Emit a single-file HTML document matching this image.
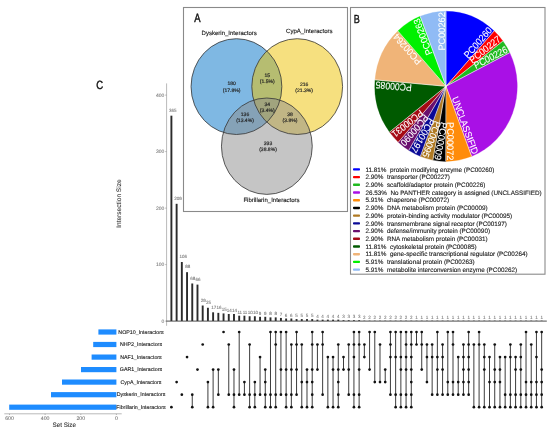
<!DOCTYPE html>
<html lang="en"><head><meta charset="utf-8"><title>Figure</title>
<style>html,body{margin:0;padding:0;background:#fff;}body{width:550px;height:432px;overflow:hidden;}svg{display:block;filter:blur(0.3px);}text{font-family:"Liberation Sans", Arial, sans-serif;text-rendering:geometricPrecision;}</style>
</head><body>
<svg width="550" height="432" viewBox="0 0 550 432">
<rect x="0" y="0" width="550" height="432" fill="#ffffff"/>
<g id="upset">
<line x1="166.6" y1="83.4" x2="166.6" y2="325.8" stroke="#8a8a8a" stroke-width="0.6"/>
<line x1="165.2" y1="321.10" x2="166.6" y2="321.10" stroke="#8a8a8a" stroke-width="0.6"/>
<text x="164.3" y="322.80" font-size="5.0" fill="#777" stroke="#777" stroke-width="0.08" text-anchor="end">0</text>
<line x1="165.2" y1="264.60" x2="166.6" y2="264.60" stroke="#8a8a8a" stroke-width="0.6"/>
<text x="164.3" y="266.30" font-size="5.0" fill="#777" stroke="#777" stroke-width="0.08" text-anchor="end">100</text>
<line x1="165.2" y1="208.10" x2="166.6" y2="208.10" stroke="#8a8a8a" stroke-width="0.6"/>
<text x="164.3" y="209.80" font-size="5.0" fill="#777" stroke="#777" stroke-width="0.08" text-anchor="end">200</text>
<line x1="165.2" y1="151.60" x2="166.6" y2="151.60" stroke="#8a8a8a" stroke-width="0.6"/>
<text x="164.3" y="153.30" font-size="5.0" fill="#777" stroke="#777" stroke-width="0.08" text-anchor="end">300</text>
<line x1="165.2" y1="95.10" x2="166.6" y2="95.10" stroke="#8a8a8a" stroke-width="0.6"/>
<text x="164.3" y="96.80" font-size="5.0" fill="#777" stroke="#777" stroke-width="0.08" text-anchor="end">400</text>
<g fill="#2b2b2b">
<rect x="170.45" y="115.68" width="1.9" height="205.32"/>
<rect x="175.67" y="203.81" width="1.9" height="117.18"/>
<rect x="180.88" y="262.01" width="1.9" height="58.99"/>
<rect x="186.10" y="272.18" width="1.9" height="48.82"/>
<rect x="191.31" y="283.48" width="1.9" height="37.52"/>
<rect x="196.53" y="284.61" width="1.9" height="36.39"/>
<rect x="201.74" y="305.51" width="1.9" height="15.48"/>
<rect x="206.96" y="307.77" width="1.9" height="13.22"/>
<rect x="212.17" y="312.30" width="1.9" height="8.70"/>
<rect x="217.39" y="312.86" width="1.9" height="8.14"/>
<rect x="222.60" y="313.43" width="1.9" height="7.57"/>
<rect x="227.81" y="313.99" width="1.9" height="7.01"/>
<rect x="233.03" y="313.99" width="1.9" height="7.01"/>
<rect x="238.25" y="315.69" width="1.9" height="5.31"/>
<rect x="243.46" y="315.69" width="1.9" height="5.31"/>
<rect x="248.68" y="316.25" width="1.9" height="4.75"/>
<rect x="253.89" y="316.25" width="1.9" height="4.75"/>
<rect x="259.11" y="316.81" width="1.9" height="4.18"/>
<rect x="264.32" y="316.81" width="1.9" height="4.18"/>
<rect x="269.54" y="317.38" width="1.9" height="3.62"/>
<rect x="274.75" y="317.38" width="1.9" height="3.62"/>
<rect x="279.97" y="317.94" width="1.9" height="3.05"/>
<rect x="285.18" y="318.51" width="1.9" height="2.49"/>
<rect x="290.40" y="318.51" width="1.9" height="2.49"/>
<rect x="295.61" y="319.07" width="1.9" height="1.92"/>
<rect x="300.82" y="319.07" width="1.9" height="1.92"/>
<rect x="306.04" y="319.07" width="1.9" height="1.92"/>
<rect x="311.26" y="319.07" width="1.9" height="1.92"/>
<rect x="316.47" y="319.64" width="1.9" height="1.36"/>
<rect x="321.69" y="319.64" width="1.9" height="1.36"/>
<rect x="326.90" y="319.64" width="1.9" height="1.36"/>
<rect x="332.12" y="319.64" width="1.9" height="1.36"/>
<rect x="337.33" y="319.64" width="1.9" height="1.36"/>
<rect x="342.55" y="320.20" width="1.9" height="0.79"/>
<rect x="347.76" y="320.20" width="1.9" height="0.79"/>
<rect x="352.98" y="320.20" width="1.9" height="0.79"/>
<rect x="358.19" y="320.20" width="1.9" height="0.79"/>
<rect x="363.41" y="320.70" width="1.9" height="0.30"/>
<rect x="368.62" y="320.70" width="1.9" height="0.30"/>
<rect x="373.83" y="320.70" width="1.9" height="0.30"/>
<rect x="379.05" y="320.70" width="1.9" height="0.30"/>
<rect x="384.27" y="320.70" width="1.9" height="0.30"/>
<rect x="389.48" y="320.70" width="1.9" height="0.30"/>
<rect x="394.69" y="320.70" width="1.9" height="0.30"/>
<rect x="399.91" y="320.70" width="1.9" height="0.30"/>
<rect x="405.12" y="320.70" width="1.9" height="0.30"/>
<rect x="410.34" y="320.70" width="1.9" height="0.30"/>
<rect x="415.56" y="320.70" width="1.9" height="0.30"/>
<rect x="420.77" y="320.70" width="1.9" height="0.30"/>
<rect x="425.99" y="320.70" width="1.9" height="0.30"/>
<rect x="431.20" y="320.70" width="1.9" height="0.30"/>
<rect x="436.42" y="320.70" width="1.9" height="0.30"/>
<rect x="441.63" y="320.70" width="1.9" height="0.30"/>
<rect x="446.84" y="320.70" width="1.9" height="0.30"/>
<rect x="452.06" y="320.70" width="1.9" height="0.30"/>
<rect x="457.28" y="320.70" width="1.9" height="0.30"/>
<rect x="462.49" y="320.70" width="1.9" height="0.30"/>
<rect x="467.70" y="320.70" width="1.9" height="0.30"/>
<rect x="472.92" y="320.70" width="1.9" height="0.30"/>
<rect x="478.14" y="320.70" width="1.9" height="0.30"/>
<rect x="483.35" y="320.70" width="1.9" height="0.30"/>
<rect x="488.56" y="320.70" width="1.9" height="0.30"/>
<rect x="493.78" y="320.70" width="1.9" height="0.30"/>
<rect x="499.00" y="320.70" width="1.9" height="0.30"/>
<rect x="504.21" y="320.70" width="1.9" height="0.30"/>
<rect x="509.43" y="320.70" width="1.9" height="0.30"/>
<rect x="514.64" y="320.70" width="1.9" height="0.30"/>
<rect x="519.85" y="320.70" width="1.9" height="0.30"/>
<rect x="525.07" y="320.70" width="1.9" height="0.30"/>
<rect x="530.28" y="320.70" width="1.9" height="0.30"/>
<rect x="535.50" y="320.70" width="1.9" height="0.30"/>
<rect x="540.71" y="320.70" width="1.9" height="0.30"/>
</g>
<g font-size="4.5" fill="#777" stroke="#777" stroke-width="0.08" text-anchor="middle">
<text x="172.80" y="111.88">365</text>
<text x="178.02" y="200.01">209</text>
<text x="183.23" y="258.21">106</text>
<text x="187.65" y="268.38">88</text>
<text x="192.86" y="279.68">68</text>
<text x="198.07" y="280.81">66</text>
<text x="203.29" y="301.71">29</text>
<text x="208.50" y="303.97">25</text>
<text x="213.72" y="308.50">17</text>
<text x="218.94" y="309.06">16</text>
<text x="224.15" y="311.43">15</text>
<text x="229.36" y="311.99">14</text>
<text x="234.58" y="311.99">14</text>
<text x="239.79" y="313.69">11</text>
<text x="245.01" y="313.69">11</text>
<text x="250.22" y="314.25">10</text>
<text x="255.44" y="314.25">10</text>
<text x="260.06" y="314.81">9</text>
<text x="265.27" y="314.81">9</text>
<text x="270.49" y="315.38">8</text>
<text x="275.70" y="315.38">8</text>
<text x="280.92" y="315.94">7</text>
<text x="286.13" y="316.51">6</text>
<text x="291.35" y="316.51">6</text>
<text x="296.56" y="317.07">5</text>
<text x="301.77" y="317.07">5</text>
<text x="306.99" y="317.07">5</text>
<text x="312.21" y="317.07">5</text>
<text x="317.42" y="317.64">4</text>
<text x="322.63" y="317.64">4</text>
<text x="327.85" y="317.64">4</text>
<text x="333.06" y="317.64">4</text>
<text x="338.28" y="317.64">4</text>
<text x="343.50" y="318.20">3</text>
<text x="348.71" y="318.20">3</text>
<text x="353.93" y="318.20">3</text>
<text x="359.14" y="318.20">3</text>
<text x="364.36" y="318.70">2</text>
<text x="369.57" y="318.70">2</text>
<text x="374.78" y="318.70">2</text>
<text x="380.00" y="318.70">2</text>
<text x="385.22" y="318.70">2</text>
<text x="390.43" y="318.70">2</text>
<text x="395.64" y="318.70">2</text>
<text x="400.86" y="318.70">2</text>
<text x="406.07" y="318.70">2</text>
<text x="411.29" y="318.70">2</text>
<text x="416.50" y="318.70">1</text>
<text x="421.72" y="318.70">1</text>
<text x="426.94" y="318.70">1</text>
<text x="432.15" y="318.70">1</text>
<text x="437.37" y="318.70">1</text>
<text x="442.58" y="318.70">1</text>
<text x="447.79" y="318.70">1</text>
<text x="453.01" y="318.70">1</text>
<text x="458.23" y="318.70">1</text>
<text x="463.44" y="318.70">1</text>
<text x="468.65" y="318.70">1</text>
<text x="473.87" y="318.70">1</text>
<text x="479.09" y="318.70">1</text>
<text x="484.30" y="318.70">1</text>
<text x="489.51" y="318.70">1</text>
<text x="494.73" y="318.70">1</text>
<text x="499.95" y="318.70">1</text>
<text x="505.16" y="318.70">1</text>
<text x="510.38" y="318.70">1</text>
<text x="515.59" y="318.70">1</text>
<text x="520.80" y="318.70">1</text>
<text x="526.02" y="318.70">1</text>
<text x="531.24" y="318.70">1</text>
<text x="536.45" y="318.70">1</text>
<text x="541.66" y="318.70">1</text>
</g>
<line x1="166.3" y1="321.1" x2="546.8" y2="321.1" stroke="#3a3a3a" stroke-width="0.9"/>
<text transform="translate(121.2,203.6) rotate(-90)" font-size="6.55" fill="#333" stroke="#333" stroke-width="0.1" text-anchor="middle">Intersection Size</text>
<g stroke="#333333" stroke-width="0.95">
<line x1="192.26" y1="394.70" x2="192.26" y2="407.20"/>
<line x1="207.91" y1="382.10" x2="207.91" y2="407.20"/>
<line x1="213.12" y1="369.60" x2="213.12" y2="407.20"/>
<line x1="218.34" y1="369.60" x2="218.34" y2="394.70"/>
<line x1="228.76" y1="344.50" x2="228.76" y2="394.70"/>
<line x1="233.98" y1="369.60" x2="233.98" y2="407.20"/>
<line x1="239.19" y1="332.00" x2="239.19" y2="394.70"/>
<line x1="244.41" y1="382.10" x2="244.41" y2="394.70"/>
<line x1="249.62" y1="344.50" x2="249.62" y2="407.20"/>
<line x1="254.84" y1="382.10" x2="254.84" y2="407.20"/>
<line x1="260.06" y1="357.10" x2="260.06" y2="394.70"/>
<line x1="265.27" y1="369.60" x2="265.27" y2="407.20"/>
<line x1="270.49" y1="332.00" x2="270.49" y2="407.20"/>
<line x1="275.70" y1="332.00" x2="275.70" y2="407.20"/>
<line x1="280.92" y1="332.00" x2="280.92" y2="394.70"/>
<line x1="286.13" y1="332.00" x2="286.13" y2="407.20"/>
<line x1="291.35" y1="344.50" x2="291.35" y2="407.20"/>
<line x1="296.56" y1="332.00" x2="296.56" y2="394.70"/>
<line x1="301.77" y1="344.50" x2="301.77" y2="407.20"/>
<line x1="306.99" y1="369.60" x2="306.99" y2="407.20"/>
<line x1="312.21" y1="332.00" x2="312.21" y2="407.20"/>
<line x1="317.42" y1="344.50" x2="317.42" y2="369.60"/>
<line x1="322.63" y1="332.00" x2="322.63" y2="394.70"/>
<line x1="327.85" y1="357.10" x2="327.85" y2="407.20"/>
<line x1="333.06" y1="357.10" x2="333.06" y2="407.20"/>
<line x1="338.28" y1="344.50" x2="338.28" y2="407.20"/>
<line x1="343.50" y1="357.10" x2="343.50" y2="369.60"/>
<line x1="348.71" y1="344.50" x2="348.71" y2="394.70"/>
<line x1="353.93" y1="332.00" x2="353.93" y2="407.20"/>
<line x1="359.14" y1="332.00" x2="359.14" y2="407.20"/>
<line x1="364.36" y1="344.50" x2="364.36" y2="357.10"/>
<line x1="369.57" y1="332.00" x2="369.57" y2="369.60"/>
<line x1="374.78" y1="332.00" x2="374.78" y2="382.10"/>
<line x1="380.00" y1="344.50" x2="380.00" y2="382.10"/>
<line x1="385.22" y1="369.60" x2="385.22" y2="382.10"/>
<line x1="390.43" y1="332.00" x2="390.43" y2="394.70"/>
<line x1="395.64" y1="332.00" x2="395.64" y2="407.20"/>
<line x1="400.86" y1="332.00" x2="400.86" y2="407.20"/>
<line x1="406.07" y1="332.00" x2="406.07" y2="407.20"/>
<line x1="411.29" y1="332.00" x2="411.29" y2="407.20"/>
<line x1="416.50" y1="332.00" x2="416.50" y2="344.50"/>
<line x1="421.72" y1="332.00" x2="421.72" y2="369.60"/>
<line x1="426.94" y1="344.50" x2="426.94" y2="382.10"/>
<line x1="432.15" y1="344.50" x2="432.15" y2="394.70"/>
<line x1="437.37" y1="332.00" x2="437.37" y2="394.70"/>
<line x1="442.58" y1="344.50" x2="442.58" y2="394.70"/>
<line x1="447.79" y1="332.00" x2="447.79" y2="394.70"/>
<line x1="453.01" y1="332.00" x2="453.01" y2="394.70"/>
<line x1="458.23" y1="357.10" x2="458.23" y2="394.70"/>
<line x1="463.44" y1="344.50" x2="463.44" y2="394.70"/>
<line x1="468.65" y1="332.00" x2="468.65" y2="394.70"/>
<line x1="473.87" y1="344.50" x2="473.87" y2="407.20"/>
<line x1="479.09" y1="332.00" x2="479.09" y2="407.20"/>
<line x1="484.30" y1="344.50" x2="484.30" y2="407.20"/>
<line x1="489.51" y1="357.10" x2="489.51" y2="407.20"/>
<line x1="494.73" y1="344.50" x2="494.73" y2="407.20"/>
<line x1="499.95" y1="357.10" x2="499.95" y2="407.20"/>
<line x1="505.16" y1="357.10" x2="505.16" y2="407.20"/>
<line x1="510.38" y1="344.50" x2="510.38" y2="407.20"/>
<line x1="515.59" y1="357.10" x2="515.59" y2="407.20"/>
<line x1="520.80" y1="344.50" x2="520.80" y2="407.20"/>
<line x1="526.02" y1="332.00" x2="526.02" y2="407.20"/>
<line x1="531.24" y1="344.50" x2="531.24" y2="407.20"/>
<line x1="536.45" y1="332.00" x2="536.45" y2="407.20"/>
<line x1="541.66" y1="332.00" x2="541.66" y2="407.20"/>
</g>
<g fill="#111111">
<circle cx="171.40" cy="407.20" r="1.35"/>
<circle cx="176.62" cy="382.10" r="1.35"/>
<circle cx="181.83" cy="394.70" r="1.35"/>
<circle cx="187.05" cy="357.10" r="1.35"/>
<circle cx="192.26" cy="394.70" r="1.35"/>
<circle cx="192.26" cy="407.20" r="1.35"/>
<circle cx="197.47" cy="369.60" r="1.35"/>
<circle cx="202.69" cy="344.50" r="1.35"/>
<circle cx="207.91" cy="382.10" r="1.35"/>
<circle cx="207.91" cy="407.20" r="1.35"/>
<circle cx="213.12" cy="369.60" r="1.35"/>
<circle cx="213.12" cy="407.20" r="1.35"/>
<circle cx="218.34" cy="369.60" r="1.35"/>
<circle cx="218.34" cy="394.70" r="1.35"/>
<circle cx="223.55" cy="332.00" r="1.35"/>
<circle cx="228.76" cy="344.50" r="1.35"/>
<circle cx="228.76" cy="394.70" r="1.35"/>
<circle cx="233.98" cy="369.60" r="1.35"/>
<circle cx="233.98" cy="394.70" r="1.35"/>
<circle cx="233.98" cy="407.20" r="1.35"/>
<circle cx="239.19" cy="332.00" r="1.35"/>
<circle cx="239.19" cy="394.70" r="1.35"/>
<circle cx="244.41" cy="382.10" r="1.35"/>
<circle cx="244.41" cy="394.70" r="1.35"/>
<circle cx="249.62" cy="344.50" r="1.35"/>
<circle cx="249.62" cy="394.70" r="1.35"/>
<circle cx="249.62" cy="407.20" r="1.35"/>
<circle cx="254.84" cy="382.10" r="1.35"/>
<circle cx="254.84" cy="394.70" r="1.35"/>
<circle cx="254.84" cy="407.20" r="1.35"/>
<circle cx="260.06" cy="357.10" r="1.35"/>
<circle cx="260.06" cy="394.70" r="1.35"/>
<circle cx="265.27" cy="369.60" r="1.35"/>
<circle cx="265.27" cy="382.10" r="1.35"/>
<circle cx="265.27" cy="394.70" r="1.35"/>
<circle cx="265.27" cy="407.20" r="1.35"/>
<circle cx="270.49" cy="332.00" r="1.35"/>
<circle cx="270.49" cy="394.70" r="1.35"/>
<circle cx="270.49" cy="407.20" r="1.35"/>
<circle cx="275.70" cy="332.00" r="1.35"/>
<circle cx="275.70" cy="344.50" r="1.35"/>
<circle cx="275.70" cy="394.70" r="1.35"/>
<circle cx="275.70" cy="407.20" r="1.35"/>
<circle cx="280.92" cy="332.00" r="1.35"/>
<circle cx="280.92" cy="369.60" r="1.35"/>
<circle cx="280.92" cy="394.70" r="1.35"/>
<circle cx="286.13" cy="332.00" r="1.35"/>
<circle cx="286.13" cy="369.60" r="1.35"/>
<circle cx="286.13" cy="394.70" r="1.35"/>
<circle cx="286.13" cy="407.20" r="1.35"/>
<circle cx="291.35" cy="344.50" r="1.35"/>
<circle cx="291.35" cy="369.60" r="1.35"/>
<circle cx="291.35" cy="394.70" r="1.35"/>
<circle cx="291.35" cy="407.20" r="1.35"/>
<circle cx="296.56" cy="332.00" r="1.35"/>
<circle cx="296.56" cy="344.50" r="1.35"/>
<circle cx="296.56" cy="369.60" r="1.35"/>
<circle cx="296.56" cy="394.70" r="1.35"/>
<circle cx="301.77" cy="344.50" r="1.35"/>
<circle cx="301.77" cy="382.10" r="1.35"/>
<circle cx="301.77" cy="407.20" r="1.35"/>
<circle cx="306.99" cy="369.60" r="1.35"/>
<circle cx="306.99" cy="382.10" r="1.35"/>
<circle cx="306.99" cy="407.20" r="1.35"/>
<circle cx="312.21" cy="332.00" r="1.35"/>
<circle cx="312.21" cy="344.50" r="1.35"/>
<circle cx="312.21" cy="369.60" r="1.35"/>
<circle cx="312.21" cy="382.10" r="1.35"/>
<circle cx="312.21" cy="394.70" r="1.35"/>
<circle cx="312.21" cy="407.20" r="1.35"/>
<circle cx="317.42" cy="344.50" r="1.35"/>
<circle cx="317.42" cy="369.60" r="1.35"/>
<circle cx="322.63" cy="332.00" r="1.35"/>
<circle cx="322.63" cy="344.50" r="1.35"/>
<circle cx="322.63" cy="394.70" r="1.35"/>
<circle cx="327.85" cy="357.10" r="1.35"/>
<circle cx="327.85" cy="407.20" r="1.35"/>
<circle cx="333.06" cy="357.10" r="1.35"/>
<circle cx="333.06" cy="369.60" r="1.35"/>
<circle cx="333.06" cy="407.20" r="1.35"/>
<circle cx="338.28" cy="344.50" r="1.35"/>
<circle cx="338.28" cy="369.60" r="1.35"/>
<circle cx="338.28" cy="382.10" r="1.35"/>
<circle cx="338.28" cy="394.70" r="1.35"/>
<circle cx="338.28" cy="407.20" r="1.35"/>
<circle cx="343.50" cy="357.10" r="1.35"/>
<circle cx="343.50" cy="369.60" r="1.35"/>
<circle cx="348.71" cy="344.50" r="1.35"/>
<circle cx="348.71" cy="369.60" r="1.35"/>
<circle cx="348.71" cy="394.70" r="1.35"/>
<circle cx="353.93" cy="332.00" r="1.35"/>
<circle cx="353.93" cy="344.50" r="1.35"/>
<circle cx="353.93" cy="357.10" r="1.35"/>
<circle cx="353.93" cy="394.70" r="1.35"/>
<circle cx="353.93" cy="407.20" r="1.35"/>
<circle cx="359.14" cy="332.00" r="1.35"/>
<circle cx="359.14" cy="344.50" r="1.35"/>
<circle cx="359.14" cy="369.60" r="1.35"/>
<circle cx="359.14" cy="394.70" r="1.35"/>
<circle cx="359.14" cy="407.20" r="1.35"/>
<circle cx="364.36" cy="344.50" r="1.35"/>
<circle cx="364.36" cy="357.10" r="1.35"/>
<circle cx="369.57" cy="332.00" r="1.35"/>
<circle cx="369.57" cy="369.60" r="1.35"/>
<circle cx="374.78" cy="332.00" r="1.35"/>
<circle cx="374.78" cy="382.10" r="1.35"/>
<circle cx="380.00" cy="344.50" r="1.35"/>
<circle cx="380.00" cy="382.10" r="1.35"/>
<circle cx="385.22" cy="369.60" r="1.35"/>
<circle cx="385.22" cy="382.10" r="1.35"/>
<circle cx="390.43" cy="332.00" r="1.35"/>
<circle cx="390.43" cy="344.50" r="1.35"/>
<circle cx="390.43" cy="357.10" r="1.35"/>
<circle cx="390.43" cy="394.70" r="1.35"/>
<circle cx="395.64" cy="332.00" r="1.35"/>
<circle cx="395.64" cy="357.10" r="1.35"/>
<circle cx="395.64" cy="394.70" r="1.35"/>
<circle cx="395.64" cy="407.20" r="1.35"/>
<circle cx="400.86" cy="332.00" r="1.35"/>
<circle cx="400.86" cy="357.10" r="1.35"/>
<circle cx="400.86" cy="369.60" r="1.35"/>
<circle cx="400.86" cy="394.70" r="1.35"/>
<circle cx="400.86" cy="407.20" r="1.35"/>
<circle cx="406.07" cy="332.00" r="1.35"/>
<circle cx="406.07" cy="344.50" r="1.35"/>
<circle cx="406.07" cy="357.10" r="1.35"/>
<circle cx="406.07" cy="369.60" r="1.35"/>
<circle cx="406.07" cy="394.70" r="1.35"/>
<circle cx="406.07" cy="407.20" r="1.35"/>
<circle cx="411.29" cy="332.00" r="1.35"/>
<circle cx="411.29" cy="344.50" r="1.35"/>
<circle cx="411.29" cy="357.10" r="1.35"/>
<circle cx="411.29" cy="369.60" r="1.35"/>
<circle cx="411.29" cy="382.10" r="1.35"/>
<circle cx="411.29" cy="394.70" r="1.35"/>
<circle cx="411.29" cy="407.20" r="1.35"/>
<circle cx="416.50" cy="332.00" r="1.35"/>
<circle cx="416.50" cy="344.50" r="1.35"/>
<circle cx="421.72" cy="332.00" r="1.35"/>
<circle cx="421.72" cy="344.50" r="1.35"/>
<circle cx="421.72" cy="369.60" r="1.35"/>
<circle cx="426.94" cy="344.50" r="1.35"/>
<circle cx="426.94" cy="357.10" r="1.35"/>
<circle cx="426.94" cy="382.10" r="1.35"/>
<circle cx="432.15" cy="344.50" r="1.35"/>
<circle cx="432.15" cy="357.10" r="1.35"/>
<circle cx="432.15" cy="394.70" r="1.35"/>
<circle cx="437.37" cy="332.00" r="1.35"/>
<circle cx="437.37" cy="357.10" r="1.35"/>
<circle cx="437.37" cy="369.60" r="1.35"/>
<circle cx="437.37" cy="394.70" r="1.35"/>
<circle cx="442.58" cy="344.50" r="1.35"/>
<circle cx="442.58" cy="357.10" r="1.35"/>
<circle cx="442.58" cy="369.60" r="1.35"/>
<circle cx="442.58" cy="394.70" r="1.35"/>
<circle cx="447.79" cy="332.00" r="1.35"/>
<circle cx="447.79" cy="382.10" r="1.35"/>
<circle cx="447.79" cy="394.70" r="1.35"/>
<circle cx="453.01" cy="332.00" r="1.35"/>
<circle cx="453.01" cy="344.50" r="1.35"/>
<circle cx="453.01" cy="382.10" r="1.35"/>
<circle cx="453.01" cy="394.70" r="1.35"/>
<circle cx="458.23" cy="357.10" r="1.35"/>
<circle cx="458.23" cy="382.10" r="1.35"/>
<circle cx="458.23" cy="394.70" r="1.35"/>
<circle cx="463.44" cy="344.50" r="1.35"/>
<circle cx="463.44" cy="357.10" r="1.35"/>
<circle cx="463.44" cy="369.60" r="1.35"/>
<circle cx="463.44" cy="382.10" r="1.35"/>
<circle cx="463.44" cy="394.70" r="1.35"/>
<circle cx="468.65" cy="332.00" r="1.35"/>
<circle cx="468.65" cy="344.50" r="1.35"/>
<circle cx="468.65" cy="357.10" r="1.35"/>
<circle cx="468.65" cy="369.60" r="1.35"/>
<circle cx="468.65" cy="382.10" r="1.35"/>
<circle cx="468.65" cy="394.70" r="1.35"/>
<circle cx="473.87" cy="344.50" r="1.35"/>
<circle cx="473.87" cy="407.20" r="1.35"/>
<circle cx="479.09" cy="332.00" r="1.35"/>
<circle cx="479.09" cy="344.50" r="1.35"/>
<circle cx="479.09" cy="407.20" r="1.35"/>
<circle cx="484.30" cy="344.50" r="1.35"/>
<circle cx="484.30" cy="357.10" r="1.35"/>
<circle cx="484.30" cy="369.60" r="1.35"/>
<circle cx="484.30" cy="407.20" r="1.35"/>
<circle cx="489.51" cy="357.10" r="1.35"/>
<circle cx="489.51" cy="382.10" r="1.35"/>
<circle cx="489.51" cy="407.20" r="1.35"/>
<circle cx="494.73" cy="344.50" r="1.35"/>
<circle cx="494.73" cy="369.60" r="1.35"/>
<circle cx="494.73" cy="382.10" r="1.35"/>
<circle cx="494.73" cy="407.20" r="1.35"/>
<circle cx="499.95" cy="357.10" r="1.35"/>
<circle cx="499.95" cy="369.60" r="1.35"/>
<circle cx="499.95" cy="382.10" r="1.35"/>
<circle cx="499.95" cy="407.20" r="1.35"/>
<circle cx="505.16" cy="357.10" r="1.35"/>
<circle cx="505.16" cy="394.70" r="1.35"/>
<circle cx="505.16" cy="407.20" r="1.35"/>
<circle cx="510.38" cy="344.50" r="1.35"/>
<circle cx="510.38" cy="357.10" r="1.35"/>
<circle cx="510.38" cy="394.70" r="1.35"/>
<circle cx="510.38" cy="407.20" r="1.35"/>
<circle cx="515.59" cy="357.10" r="1.35"/>
<circle cx="515.59" cy="369.60" r="1.35"/>
<circle cx="515.59" cy="394.70" r="1.35"/>
<circle cx="515.59" cy="407.20" r="1.35"/>
<circle cx="520.80" cy="344.50" r="1.35"/>
<circle cx="520.80" cy="357.10" r="1.35"/>
<circle cx="520.80" cy="369.60" r="1.35"/>
<circle cx="520.80" cy="394.70" r="1.35"/>
<circle cx="520.80" cy="407.20" r="1.35"/>
<circle cx="526.02" cy="332.00" r="1.35"/>
<circle cx="526.02" cy="382.10" r="1.35"/>
<circle cx="526.02" cy="394.70" r="1.35"/>
<circle cx="526.02" cy="407.20" r="1.35"/>
<circle cx="531.24" cy="344.50" r="1.35"/>
<circle cx="531.24" cy="382.10" r="1.35"/>
<circle cx="531.24" cy="394.70" r="1.35"/>
<circle cx="531.24" cy="407.20" r="1.35"/>
<circle cx="536.45" cy="332.00" r="1.35"/>
<circle cx="536.45" cy="357.10" r="1.35"/>
<circle cx="536.45" cy="382.10" r="1.35"/>
<circle cx="536.45" cy="394.70" r="1.35"/>
<circle cx="536.45" cy="407.20" r="1.35"/>
<circle cx="541.66" cy="332.00" r="1.35"/>
<circle cx="541.66" cy="369.60" r="1.35"/>
<circle cx="541.66" cy="382.10" r="1.35"/>
<circle cx="541.66" cy="394.70" r="1.35"/>
<circle cx="541.66" cy="407.20" r="1.35"/>
</g>
<g fill="#1e8cff">
<rect x="98.40" y="329.40" width="18.00" height="5.2"/>
<rect x="93.20" y="341.90" width="23.20" height="5.2"/>
<rect x="91.60" y="354.50" width="24.80" height="5.2"/>
<rect x="81.00" y="367.00" width="35.40" height="5.2"/>
<rect x="62.00" y="379.50" width="54.40" height="5.2"/>
<rect x="51.00" y="392.10" width="65.40" height="5.2"/>
<rect x="9.20" y="404.60" width="107.20" height="5.2"/>
</g>
<g font-size="5.3" fill="#222" stroke="#222" stroke-width="0.12" text-anchor="middle">
<text x="141" y="333.60">NOP10_Interactors</text>
<text x="141" y="346.10">NHP2_Interactors</text>
<text x="141" y="358.70">NAF1_Interactors</text>
<text x="141" y="371.20">GAR1_Interactors</text>
<text x="141" y="383.70">CypA_Interactors</text>
<text x="141" y="396.30">Dyskerin_Interactors</text>
<text x="141" y="408.80">Fibrillarin_Interactors</text>
</g>
<line x1="4.3" y1="413.8" x2="121.7" y2="413.8" stroke="#8a8a8a" stroke-width="0.6"/>
<line x1="9.50" y1="413.8" x2="9.50" y2="415" stroke="#8a8a8a" stroke-width="0.6"/>
<text x="9.50" y="419.8" font-size="5.2" fill="#707070" stroke="#707070" stroke-width="0.08" text-anchor="middle">600</text>
<line x1="45.10" y1="413.8" x2="45.10" y2="415" stroke="#8a8a8a" stroke-width="0.6"/>
<text x="45.10" y="419.8" font-size="5.2" fill="#707070" stroke="#707070" stroke-width="0.08" text-anchor="middle">400</text>
<line x1="80.80" y1="413.8" x2="80.80" y2="415" stroke="#8a8a8a" stroke-width="0.6"/>
<text x="80.80" y="419.8" font-size="5.2" fill="#707070" stroke="#707070" stroke-width="0.08" text-anchor="middle">200</text>
<line x1="116.40" y1="413.8" x2="116.40" y2="415" stroke="#8a8a8a" stroke-width="0.6"/>
<text x="116.40" y="419.8" font-size="5.2" fill="#707070" stroke="#707070" stroke-width="0.08" text-anchor="middle">0</text>
<text x="64.3" y="426.7" font-size="6.3" fill="#333" stroke="#333" stroke-width="0.1" text-anchor="middle">Set Size</text>
<text transform="translate(96.3,89.0) scale(0.8,1)" font-size="11.9" fill="#111" stroke="#111" stroke-width="0.45">C</text>
</g>
<g id="venn">
<rect x="183.5" y="7.5" width="164" height="204" fill="#ffffff" stroke="#8a8a8a" stroke-width="1.1"/>
<text transform="translate(194.3,21.6) scale(0.78,1)" font-size="12.1" fill="#111" stroke="#111" stroke-width="0.45">A</text>
<ellipse cx="236.45" cy="86.60" rx="45.40" ry="47.90" fill="#0072c8" fill-opacity="0.5"/>
<ellipse cx="297.20" cy="86.60" rx="45.40" ry="47.90" fill="#eec100" fill-opacity="0.5"/>
<ellipse cx="266.85" cy="146.20" rx="45.40" ry="48.20" fill="#8c8c8c" fill-opacity="0.5"/>
<ellipse cx="236.45" cy="86.60" rx="45.40" ry="47.90" fill="none" stroke="#353535" stroke-width="0.8"/>
<ellipse cx="297.20" cy="86.60" rx="45.40" ry="47.90" fill="none" stroke="#353535" stroke-width="0.8"/>
<ellipse cx="266.85" cy="146.20" rx="45.40" ry="48.20" fill="none" stroke="#353535" stroke-width="0.8"/>
<g font-size="6.03" fill="#1a1a1a" stroke="#1a1a1a" stroke-width="0.14" text-anchor="middle">
<text x="229.2" y="34.9">Dyskerin_Interactors</text>
<text x="309.3" y="33.1">CypA_Interactors</text>
<text x="271.5" y="202.2">Fibrillarin_Interactors</text>
</g>
<g font-size="5.05" fill="#222" stroke="#222" stroke-width="0.16" text-anchor="middle">
<text x="231.6" y="85.2">180</text>
<text x="231.6" y="91.5">(17.8%)</text>
<text x="267.3" y="76.9">15</text>
<text x="267.3" y="83.2">(1.5%)</text>
<text x="304.2" y="85.5">216</text>
<text x="304.2" y="91.8">(21.3%)</text>
<text x="267.2" y="105.7">34</text>
<text x="267.2" y="112.0">(3.4%)</text>
<text x="245.0" y="115.6">136</text>
<text x="245.0" y="121.9">(13.4%)</text>
<text x="290.0" y="115.6">38</text>
<text x="290.0" y="121.9">(3.8%)</text>
<text x="268.0" y="145.2">393</text>
<text x="268.0" y="151.4">(38.8%)</text>
</g>
</g>
<g id="pie">
<rect x="350.5" y="7.5" width="194.5" height="266.7" fill="#ffffff" stroke="#8a8a8a" stroke-width="1.1"/>
<text transform="translate(353.8,22.8) scale(0.78,1)" font-size="11.6" fill="#111" stroke="#111" stroke-width="0.4">B</text>
<g transform="translate(446.00,86.30) scale(1,1.054)">
<path d="M0 0 L0.000 -71.250 A71.25 71.25 0 0 1 48.154 -52.514 Z" fill="#0000ff" stroke="#0000ff" stroke-width="0.3"/>
<path d="M0 0 L48.154 -52.514 A71.25 71.25 0 0 1 56.874 -42.918 Z" fill="#ff0000" stroke="#ff0000" stroke-width="0.3"/>
<path d="M0 0 L56.874 -42.918 A71.25 71.25 0 0 1 63.710 -31.900 Z" fill="#1fba1f" stroke="#1fba1f" stroke-width="0.3"/>
<path d="M0 0 L63.710 -31.900 A71.25 71.25 0 0 1 25.627 66.482 Z" fill="#a910e6" stroke="#a910e6" stroke-width="0.3"/>
<path d="M0 0 L25.627 66.482 A71.25 71.25 0 0 1 -0.246 71.250 Z" fill="#ff8c0a" stroke="#ff8c0a" stroke-width="0.3"/>
<path d="M0 0 L-0.246 71.250 A71.25 71.25 0 0 1 -13.154 70.025 Z" fill="#000000" stroke="#000000" stroke-width="0.3"/>
<path d="M0 0 L-13.154 70.025 A71.25 71.25 0 0 1 -25.627 66.482 Z" fill="#b07a23" stroke="#b07a23" stroke-width="0.3"/>
<path d="M0 0 L-25.627 66.482 A71.25 71.25 0 0 1 -37.250 60.737 Z" fill="#0a0a96" stroke="#0a0a96" stroke-width="0.3"/>
<path d="M0 0 L-37.250 60.737 A71.25 71.25 0 0 1 -47.641 52.981 Z" fill="#6a0f6e" stroke="#6a0f6e" stroke-width="0.3"/>
<path d="M0 0 L-47.641 52.981 A71.25 71.25 0 0 1 -56.453 43.470 Z" fill="#a50a14" stroke="#a50a14" stroke-width="0.3"/>
<path d="M0 0 L-56.453 43.470 A71.25 71.25 0 0 1 -70.987 -6.115 Z" fill="#005a00" stroke="#005a00" stroke-width="0.3"/>
<path d="M0 0 L-70.987 -6.115 A71.25 71.25 0 0 1 -48.187 -52.484 Z" fill="#f0b478" stroke="#f0b478" stroke-width="0.3"/>
<path d="M0 0 L-48.187 -52.484 A71.25 71.25 0 0 1 -25.856 -66.393 Z" fill="#00f000" stroke="#00f000" stroke-width="0.3"/>
<path d="M0 0 L-25.856 -66.393 A71.25 71.25 0 0 1 0.000 -71.250 Z" fill="#90bbf5" stroke="#90bbf5" stroke-width="0.3"/>
<line x1="0" y1="0" x2="48.154" y2="-52.514" stroke="#ffffff" stroke-width="0.6"/>
<line x1="0" y1="0" x2="56.874" y2="-42.918" stroke="#ffffff" stroke-width="0.6"/>
<line x1="0" y1="0" x2="63.710" y2="-31.900" stroke="#ffffff" stroke-width="0.6"/>
<line x1="0" y1="0" x2="25.627" y2="66.482" stroke="#ffffff" stroke-width="0.6"/>
<line x1="0" y1="0" x2="-0.246" y2="71.250" stroke="#ffffff" stroke-width="0.6"/>
<line x1="0" y1="0" x2="-13.154" y2="70.025" stroke="#ffffff" stroke-width="0.6"/>
<line x1="0" y1="0" x2="-25.627" y2="66.482" stroke="#ffffff" stroke-width="0.6"/>
<line x1="0" y1="0" x2="-37.250" y2="60.737" stroke="#ffffff" stroke-width="0.6"/>
<line x1="0" y1="0" x2="-47.641" y2="52.981" stroke="#ffffff" stroke-width="0.6"/>
<line x1="0" y1="0" x2="-56.453" y2="43.470" stroke="#ffffff" stroke-width="0.6"/>
<line x1="0" y1="0" x2="-70.987" y2="-6.115" stroke="#ffffff" stroke-width="0.6"/>
<line x1="0" y1="0" x2="-48.187" y2="-52.484" stroke="#ffffff" stroke-width="0.6"/>
<line x1="0" y1="0" x2="-25.856" y2="-66.393" stroke="#ffffff" stroke-width="0.6"/>
<line x1="0" y1="0" x2="0.000" y2="-71.250" stroke="#ffffff" stroke-width="0.6"/>
<g font-size="9.4" fill="#ffffff" stroke="#ffffff" stroke-width="0.1" text-anchor="end">
<text transform="rotate(-47.48) translate(70.25,-1.3) scale(0.93,1)">PC00260</text>
<text transform="rotate(-37.04) translate(70.25,-1.3) scale(0.93,1)">PC00227</text>
<text transform="rotate(-26.60) translate(70.25,-1.3) scale(0.93,1)">PC00226</text>
<text transform="rotate(68.92) translate(70.25,-1.3) scale(0.93,1)">UNCLASSIFID</text>
<text transform="rotate(90.20) translate(70.25,-1.3) scale(0.93,1)">PC00072</text>
<text transform="rotate(100.64) translate(70.25,-1.3) scale(0.93,1)">PC00009</text>
<text transform="rotate(111.08) translate(70.25,-1.3) scale(0.93,1)">PC00095</text>
<text transform="rotate(121.52) translate(70.25,-1.3) scale(0.93,1)">PC00197</text>
<text transform="rotate(131.96) translate(70.25,-1.3) scale(0.93,1)">PC00090</text>
<text transform="rotate(142.40) translate(70.25,-1.3) scale(0.93,1)">PC00031</text>
<text transform="rotate(184.92) translate(70.25,-1.3) scale(0.93,1)">PC00085</text>
<text transform="rotate(227.44) translate(70.25,-1.3) scale(0.93,1)">PC00264</text>
<text transform="rotate(248.72) translate(70.25,-1.3) scale(0.93,1)">PC00263</text>
<text transform="rotate(270.00) translate(70.25,-1.3) scale(0.93,1)">PC00262</text>
</g>
</g>
<rect x="353" y="168.20" width="7" height="2.4" rx="0.8" fill="#0000ff"/>
<text x="365.5" y="171.65" font-size="6.33" fill="#1a1a1a" stroke="#1a1a1a" stroke-width="0.12" xml:space="preserve">11.81%  protein modifying enzyme (PC00260)</text>
<rect x="353" y="175.91" width="7" height="2.4" rx="0.8" fill="#ff0000"/>
<text x="365.5" y="179.36" font-size="6.33" fill="#1a1a1a" stroke="#1a1a1a" stroke-width="0.12" xml:space="preserve">2.90%  transporter (PC00227)</text>
<rect x="353" y="183.62" width="7" height="2.4" rx="0.8" fill="#1fba1f"/>
<text x="365.5" y="187.07" font-size="6.33" fill="#1a1a1a" stroke="#1a1a1a" stroke-width="0.12" xml:space="preserve">2.90%  scaffold/adaptor protein (PC00226)</text>
<rect x="353" y="191.33" width="7" height="2.4" rx="0.8" fill="#a910e6"/>
<text x="365.5" y="194.78" font-size="6.33" fill="#1a1a1a" stroke="#1a1a1a" stroke-width="0.12" xml:space="preserve">26.53%  No PANTHER category is assigned (UNCLASSIFIED)</text>
<rect x="353" y="199.04" width="7" height="2.4" rx="0.8" fill="#ff8c0a"/>
<text x="365.5" y="202.49" font-size="6.33" fill="#1a1a1a" stroke="#1a1a1a" stroke-width="0.12" xml:space="preserve">5.91%  chaperone (PC00072)</text>
<rect x="353" y="206.75" width="7" height="2.4" rx="0.8" fill="#000000"/>
<text x="365.5" y="210.20" font-size="6.33" fill="#1a1a1a" stroke="#1a1a1a" stroke-width="0.12" xml:space="preserve">2.90%  DNA metabolism protein (PC00009)</text>
<rect x="353" y="214.46" width="7" height="2.4" rx="0.8" fill="#b07a23"/>
<text x="365.5" y="217.91" font-size="6.33" fill="#1a1a1a" stroke="#1a1a1a" stroke-width="0.12" xml:space="preserve">2.90%  protein-binding activity modulator (PC00095)</text>
<rect x="353" y="222.17" width="7" height="2.4" rx="0.8" fill="#0a0a96"/>
<text x="365.5" y="225.62" font-size="6.33" fill="#1a1a1a" stroke="#1a1a1a" stroke-width="0.12" xml:space="preserve">2.90%  transmembrane signal receptor (PC00197)</text>
<rect x="353" y="229.88" width="7" height="2.4" rx="0.8" fill="#6a0f6e"/>
<text x="365.5" y="233.33" font-size="6.33" fill="#1a1a1a" stroke="#1a1a1a" stroke-width="0.12" xml:space="preserve">2.90%  defense/immunity protein (PC00090)</text>
<rect x="353" y="237.59" width="7" height="2.4" rx="0.8" fill="#a50a14"/>
<text x="365.5" y="241.04" font-size="6.33" fill="#1a1a1a" stroke="#1a1a1a" stroke-width="0.12" xml:space="preserve">2.90%  RNA metabolism protein (PC00031)</text>
<rect x="353" y="245.30" width="7" height="2.4" rx="0.8" fill="#005a00"/>
<text x="365.5" y="248.75" font-size="6.33" fill="#1a1a1a" stroke="#1a1a1a" stroke-width="0.12" xml:space="preserve">11.81%  cytoskeletal protein (PC00085)</text>
<rect x="353" y="253.01" width="7" height="2.4" rx="0.8" fill="#f0b478"/>
<text x="365.5" y="256.46" font-size="6.33" fill="#1a1a1a" stroke="#1a1a1a" stroke-width="0.12" xml:space="preserve">11.81%  gene-specific transcriptional regulator (PC00264)</text>
<rect x="353" y="260.72" width="7" height="2.4" rx="0.8" fill="#00f000"/>
<text x="365.5" y="264.17" font-size="6.33" fill="#1a1a1a" stroke="#1a1a1a" stroke-width="0.12" xml:space="preserve">5.91%  translational protein (PC00263)</text>
<rect x="353" y="268.43" width="7" height="2.4" rx="0.8" fill="#90bbf5"/>
<text x="365.5" y="271.88" font-size="6.33" fill="#1a1a1a" stroke="#1a1a1a" stroke-width="0.12" xml:space="preserve">5.91%  metabolite interconversion enzyme (PC00262)</text>
</g>
</svg>
</body></html>
